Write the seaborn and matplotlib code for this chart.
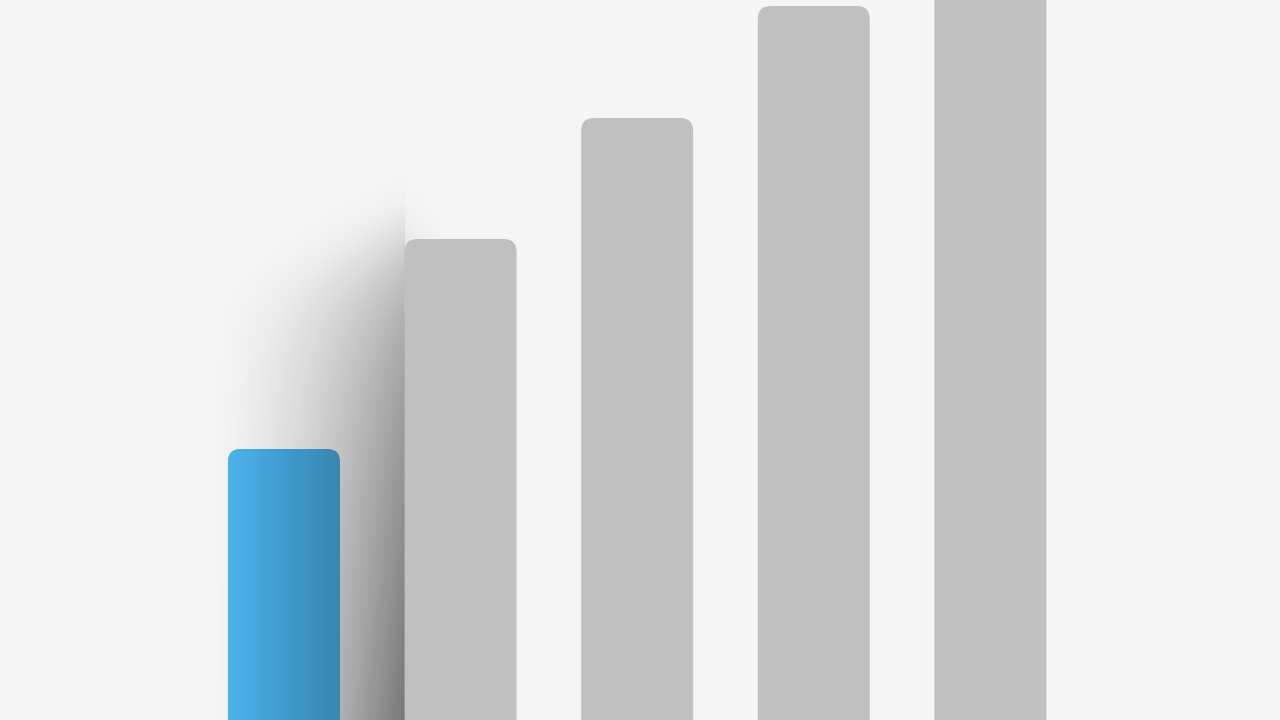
import numpy as np
import pandas as pd
import matplotlib
matplotlib.use("Agg")
import matplotlib.pyplot as plt
from matplotlib.patches import FancyBboxPatch
from matplotlib.colors import LinearSegmentedColormap
import seaborn as sns

# Data (bar heights, arbitrary units; 0..72 is visible)
categories = ["1", "2", "3", "4", "5"]
values = [27.1, 48.1, 60.2, 71.4, 80.0]
bar_colors = ["#45a6dc", "#c0c0c0", "#c0c0c0", "#c0c0c0", "#c0c0c0"]

df = pd.DataFrame({"cat": categories, "val": values})

sns.set_theme(style="white")
fig = plt.figure(figsize=(12.8, 7.2), dpi=100)
fig.patch.set_facecolor("#f5f5f5")
ax = fig.add_axes([0, 0, 1, 1])
ax.set_facecolor("#f5f5f5")

sns.barplot(data=df, x="cat", y="val", hue="cat", palette=dict(zip(categories, bar_colors)),
            width=0.634, legend=False, ax=ax, zorder=3)

xlim = (-1.608, 5.640)
ylim = (0, 72)
x_per_px = (xlim[1] - xlim[0]) / 1280
y_per_px = (ylim[1] - ylim[0]) / 720

# swap plain bars for rounded ones
rounded = []
for p in list(ax.patches):
    x0, y0 = p.get_x(), p.get_y()
    w, h = p.get_width(), p.get_height()
    fc = p.get_facecolor()
    p.remove()
    rb = FancyBboxPatch((x0, y0 - 5), w, h + 5,
                        boxstyle="round,pad=0,rounding_size=%f" % (13 * x_per_px),
                        mutation_aspect=y_per_px / x_per_px,
                        facecolor=fc, edgecolor="none", zorder=3)
    ax.add_patch(rb)
    rounded.append((rb, x0, w, h))

# blue gradient on the first bar
blue, bx0, bw, bh = rounded[0]
cmap = LinearSegmentedColormap.from_list("blu", ["#4cb4ec", "#3f9bd0", "#3a86b0"])
grad = np.linspace(0, 1, 256).reshape(1, -1)
im = ax.imshow(grad, cmap=cmap, extent=(bx0, bx0 + bw, -5, bh), aspect="auto", zorder=4)
im.set_clip_path(blue)

# soft shadow left of the second bar (drawn behind the bars)
_, sx0, sw, sh = rounded[1]
left_px, right_px, px_h = 210, 50, 640
xs = np.linspace(sx0 - left_px * x_per_px, sx0 + right_px * x_per_px, left_px + right_px)
ys = np.linspace(0, px_h * y_per_px, px_h)
X, Y = np.meshgrid(xs, ys)
d = (sx0 - X) / x_per_px                      # pixels left of bar edge
yup = Y / y_per_px                            # pixels from bottom
prof = np.where(d >= 0,
                np.clip(1 - d / 200, 0, 1) ** 1.45,
                0.45 * np.clip(1 + d / 45, 0, 1))
top = (sh / y_per_px + 26) - np.clip(d, 0, None) * 0.4 + np.clip(d, None, 0) * 0.3
t = top - yup                                  # pixels below the shadow's top edge
tt = 15 * np.log1p(np.exp(t / 15))
vf = 0.28 * (1 - np.exp(-tt / 60)) + 0.23 * np.clip(tt / 500, 0, 1.2)
alpha = prof * vf
rgba = np.zeros((px_h, left_px + right_px, 4))
rgba[..., 3] = alpha
ax.imshow(rgba, extent=(xs[0], xs[-1], ys[0], ys[-1]), origin="lower",
          aspect="auto", zorder=2, interpolation="bilinear")

ax.set_xlim(*xlim)
ax.set_ylim(*ylim)
ax.axis("off")

fig.savefig("out.png", dpi=100, facecolor=fig.get_facecolor())
